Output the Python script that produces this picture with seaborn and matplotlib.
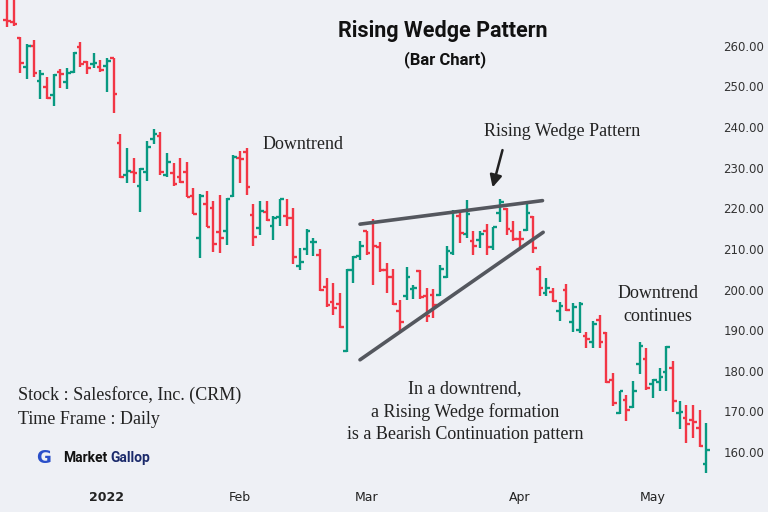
import seaborn as sns
import pandas as pd
import matplotlib.pyplot as plt

# trading days Dec 10 2021 -> May 12 2022
holidays = ['2021-12-24', '2022-01-17', '2022-02-21', '2022-04-15']
days = pd.bdate_range('2021-12-10', '2022-05-12')
days = days[~days.isin(pd.to_datetime(holidays))]

opens = [266.4, 265.9, 262.0, 254.8, 260.0, 251.4, 249.9, 247.9, 253.6, 251.1,
         253.6, 259.8, 256.1, 255.5, 254.8, 255.1, 257.0, 236.2, 228.1, 228.9,
         225.6, 228.9, 237.1, 237.7, 228.2, 228.6, 227.6, 229.0, 223.1, 212.6,
         221.1, 220.0, 214.2, 214.4, 223.1, 232.3, 233.8, 218.4, 215.1, 219.2,
         215.7, 217.8, 218.0, 217.7, 205.8, 210.0, 211.6, 208.5, 200.6, 197.0,
         196.5, 184.9, 204.8, 208.3, 214.3, 216.5, 210.4, 204.8, 203.0, 194.6,
         198.4, 200.1, 204.6, 198.3, 198.7, 198.7, 203.2, 208.9, 218.1, 213.8,
         212.0, 212.2, 214.3, 210.4, 218.8, 219.9, 214.5, 212.5, 214.7, 217.8,
         205.1, 199.2, 199.5, 194.6, 199.9, 192.1, 190.0, 188.6, 187.2, 192.5,
         189.2, 177.8, 169.7, 172.8, 171.0, 181.6, 182.8, 176.7, 177.3, 179.8,
         180.6, 169.5, 168.3, 167.9, 165.9, 157.0]
highs = [273.0, 273.0, 262.2, 260.5, 261.5, 254.1, 252.4, 253.1, 254.3, 254.6,
         258.5, 261.0, 256.3, 258.3, 256.6, 257.0, 257.0, 238.3, 234.8, 232.5,
         229.9, 236.7, 239.5, 238.9, 233.6, 231.1, 232.3, 231.5, 225.0, 223.5,
         224.3, 221.8, 223.3, 222.5, 233.2, 234.0, 234.8, 221.1, 221.9, 221.7,
         218.1, 222.3, 222.2, 220.2, 210.2, 214.8, 212.6, 210.0, 202.9, 201.5,
         199.2, 205.0, 208.3, 212.0, 214.5, 217.3, 211.8, 206.6, 205.0, 197.4,
         205.5, 201.1, 204.8, 200.3, 200.1, 206.1, 210.7, 219.5, 219.2, 222.1,
         214.3, 214.3, 216.1, 215.3, 222.2, 220.0, 217.0, 214.3, 221.3, 218.1,
         205.8, 202.8, 200.3, 197.0, 201.3, 196.6, 197.0, 189.6, 192.3, 193.7,
         189.6, 179.4, 175.0, 174.0, 177.5, 187.2, 185.5, 178.0, 180.6, 186.2,
         182.5, 172.6, 171.6, 171.6, 170.3, 167.1]
lows = [264.7, 264.8, 253.4, 251.9, 252.4, 247.0, 247.0, 245.2, 249.7, 249.4,
        253.4, 254.8, 253.1, 254.6, 253.6, 248.7, 243.5, 227.4, 226.2, 226.2,
        219.0, 226.8, 235.9, 228.1, 227.8, 225.5, 226.3, 222.7, 218.5, 207.7,
        215.3, 209.3, 209.1, 211.0, 222.7, 226.3, 223.3, 210.6, 213.4, 217.0,
        212.2, 215.7, 215.7, 206.3, 204.8, 208.5, 208.3, 199.7, 195.8, 193.7,
        190.5, 184.7, 201.7, 207.2, 208.5, 201.1, 204.4, 199.1, 196.2, 189.6,
        197.4, 197.6, 197.6, 192.1, 193.0, 198.3, 202.8, 208.6, 211.5, 212.6,
        208.5, 210.2, 208.5, 209.8, 216.7, 213.4, 212.0, 210.4, 214.3, 208.9,
        198.3, 198.4, 196.9, 192.3, 194.7, 189.6, 189.4, 185.7, 185.7, 185.7,
        176.9, 171.3, 169.4, 167.6, 170.8, 179.1, 175.3, 173.2, 174.9, 174.9,
        169.9, 165.6, 162.1, 163.4, 161.2, 154.8]
closes = [266.1, 265.4, 255.8, 260.0, 253.4, 253.1, 247.2, 252.9, 253.1, 253.4,
          258.3, 255.6, 254.6, 255.8, 254.1, 256.3, 248.2, 227.8, 229.3, 228.6,
          229.7, 235.0, 238.2, 228.9, 231.4, 226.0, 226.4, 222.9, 218.6, 223.1,
          215.5, 211.2, 212.8, 222.2, 232.7, 232.2, 225.2, 212.9, 219.4, 217.1,
          217.7, 222.2, 217.6, 208.0, 206.9, 214.5, 211.8, 199.9, 196.2, 195.4,
          190.7, 204.7, 207.9, 210.7, 209.1, 210.6, 204.8, 203.2, 196.4, 192.1,
          203.2, 200.3, 198.1, 193.5, 196.2, 205.0, 209.6, 219.0, 214.0, 218.5,
          210.7, 213.8, 210.4, 215.3, 221.5, 214.8, 212.5, 212.4, 218.8, 210.2,
          200.5, 200.5, 197.2, 196.0, 195.0, 195.8, 196.5, 187.8, 191.5, 187.2,
          177.3, 172.0, 174.9, 170.3, 174.9, 186.1, 175.7, 177.7, 178.4, 185.8,
          172.6, 169.9, 166.9, 167.5, 161.5, 160.5]

month_ticks = ['2022-01-03', '2022-02-01', '2022-03-01', '2022-04-01', '2022-05-02']
month_labels = ['2022', 'Feb', 'Mar', 'Apr', 'May']

df = pd.DataFrame({'date': days, 'open': opens, 'high': highs,
                   'low': lows, 'close': closes})
df['x'] = range(len(df))
df['up'] = df['close'] >= df['open']

bg = '#eef0f5'
green = '#089981'
red = '#f23645'

sns.set_theme(style='white', rc={'axes.facecolor': bg, 'figure.facecolor': bg})
plt.rcParams['font.family'] = ['DejaVu Sans']

fig = plt.figure(figsize=(7.68, 5.12), dpi=100)
ax = fig.add_axes([0, 0.0625, 0.931, 0.9375])

# ohlc bars: vertical range, open tick left, close tick right
colors = df['up'].map({True: green, False: red})
w = 0.55
ax.vlines(df['x'], df['low'], df['high'], colors=colors, lw=1.7)
ax.hlines(df['open'], df['x'] - w, df['x'], colors=colors, lw=1.7)
ax.hlines(df['close'], df['x'], df['x'] + w, colors=colors, lw=1.7)

# wedge lines
ax.plot([53.0, 80.4], [216.1, 221.9], color='#54575e', lw=2.6, solid_capstyle='round')
ax.plot([53.0, 80.5], [182.7, 214.1], color='#54575e', lw=2.6, solid_capstyle='round')
ax.annotate('', xy=(72.8, 224.5), xytext=(74.5, 235.0),
            arrowprops=dict(arrowstyle='-|>', color='#222222', lw=1.8, mutation_scale=18))

ax.set_xlim(-1.05, 106.3)
ax.set_ylim(153.1, 271.3)
sns.despine(ax=ax, left=True, bottom=True, right=True, top=True)

tick_pos = [df.index[df['date'] == pd.Timestamp(d)][0] for d in month_ticks]
ax.set_xticks(tick_pos)
ax.set_xticklabels(month_labels, fontsize=9, color='#222222')
ax.get_xticklabels()[0].set_fontweight('bold')
ax.yaxis.tick_right()
ax.set_yticks(range(160, 261, 10))
ax.set_yticklabels([f'{v:.2f}' for v in range(160, 261, 10)], fontsize=8.5, color='#333333')
ax.tick_params(axis='both', length=0, pad=6)
ax.tick_params(axis='x', pad=8)

serif = 'Liberation Serif'
ax.text(44.4, 235.6, 'Downtrend', family=serif, fontsize=13, ha='center', va='center', color='#222222')
ax.text(83.3, 238.8, 'Rising Wedge Pattern', family=serif, fontsize=13, ha='center', va='center', color='#222222')
ax.text(97.7, 196.2, 'Downtrend\ncontinues', family=serif, fontsize=13, ha='center', va='center',
        color='#222222', linespacing=1.4)
ax.text(68.8, 169.9, 'In a downtrend,\na Rising Wedge formation\nis a Bearish Continuation pattern',
        family=serif, fontsize=13, ha='center', va='center', color='#222222', linespacing=1.4)

fig.text(18 / 768, 1 - 395 / 512, 'Stock : Salesforce, Inc. (CRM)', family=serif, fontsize=13,
         ha='left', va='center', color='#222222')
fig.text(18 / 768, 1 - 420 / 512, 'Time Frame : Daily', family=serif, fontsize=13,
         ha='left', va='center', color='#222222')

fig.text(443 / 768, 1 - 31 / 512, 'Rising Wedge Pattern', family='Roboto', fontweight='bold',
         fontsize=15.5, ha='center', va='center', color='#111111')
fig.text(445 / 768, 1 - 60 / 512, '(Bar Chart)', family='Roboto', fontweight='bold',
         fontsize=12, ha='center', va='center', color='#111111')

# logo
fig.text(36 / 768, 1 - 458 / 512, 'G', family='DejaVu Sans', fontweight='bold', fontsize=13,
         ha='left', va='center', color='#2a4fc9')
fig.text(63 / 768, 1 - 458 / 512, 'Market', family='Roboto', fontweight='bold', fontsize=10,
         ha='left', va='center', color='#111111')
fig.text(110 / 768, 1 - 458 / 512, 'Gallop', family='Roboto', fontweight='bold', fontsize=10,
         ha='left', va='center', color='#1b2a6b')

fig.savefig('out.png', dpi=100, facecolor=bg)
